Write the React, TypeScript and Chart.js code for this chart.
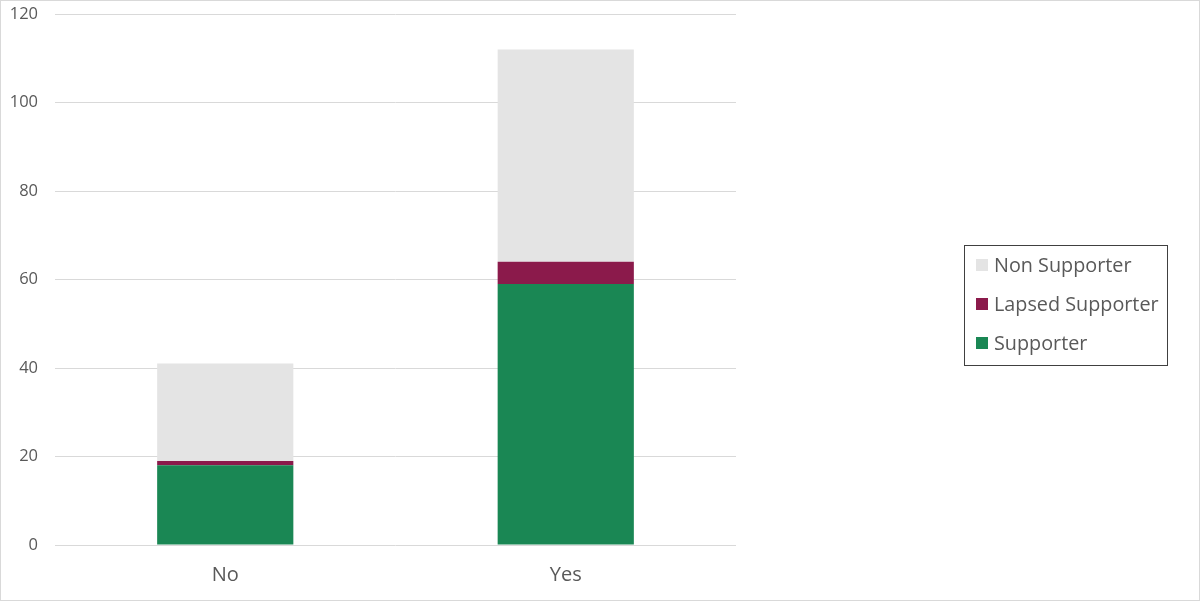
import React, { useEffect, useRef } from "react";
import { Chart, registerables } from "chart.js";

Chart.register(...registerables);

const categories = ["No", "Yes"];
const supporter = [18, 59];
const lapsedSupporter = [1, 5];
const nonSupporter = [22, 48];
const yTicks = [0, 20, 40, 60, 80, 100, 120];

const seriesNames = ["Supporter", "Lapsed Supporter", "Non Supporter"];
const seriesColors = ["#1A8754", "#8B1A4B", "#E4E4E4"];

const FONT = "'Open Sans', 'Noto Sans', sans-serif";

export default function App() {
  const canvasRef = useRef<HTMLCanvasElement | null>(null);

  useEffect(() => {
    document.body.style.margin = "0";
    const ctx = canvasRef.current;
    if (!ctx) return;
    const seriesData = [supporter, lapsedSupporter, nonSupporter];
    const chart = new Chart(ctx, {
      type: "bar",
      data: {
        labels: categories,
        datasets: seriesNames.map((name, i) => ({
          label: name,
          data: seriesData[i],
          backgroundColor: seriesColors[i],
          borderWidth: 0,
          barPercentage: 0.8,
          categoryPercentage: 0.5,
        })),
      },
      options: {
        animation: false,
        responsive: false,
        maintainAspectRatio: false,
        layout: { padding: { left: 0, right: 464, top: 14, bottom: 0 } },
        plugins: {
          legend: { display: false },
          tooltip: { enabled: false },
        },
        scales: {
          x: {
            stacked: true,
            grid: { display: false, drawTicks: false },
            border: { display: false },
            ticks: { color: "#595959", font: { family: FONT, size: 20 }, padding: 18 },
            afterFit: (s: any) => {
              s.height = 56;
            },
          },
          y: {
            stacked: true,
            min: 0,
            max: 120,
            afterBuildTicks: (s: any) => {
              s.ticks = yTicks.map((v) => ({ value: v }));
            },
            grid: { color: "#D9D9D9", lineWidth: 1, drawTicks: false },
            border: { display: false },
            ticks: { color: "#595959", font: { family: FONT, size: 16.5 }, padding: 17 },
            afterFit: (s: any) => {
              s.width = 55;
              s.paddingTop = 0;
              s.paddingBottom = 0;
            },
          },
        },
      },
    });
    return () => chart.destroy();
  }, []);

  const legendItems = [2, 1, 0];

  return (
    <div style={{ position: "relative", width: 1200, height: 601, background: "#fff", overflow: "hidden" }}>
      <canvas ref={canvasRef} width={1200} height={601} style={{ position: "absolute", left: 0, top: 0, width: 1200, height: 601 }} />
      <div
        style={{
          position: "absolute",
          left: 0,
          top: 0,
          width: 1200,
          height: 601,
          boxSizing: "border-box",
          border: "1px solid #D9D9D9",
          pointerEvents: "none",
        }}
      />
      <div
        style={{
          position: "absolute",
          left: 964,
          top: 245,
          width: 204,
          height: 121,
          boxSizing: "border-box",
          border: "1px solid #404040",
          fontFamily: FONT,
          fontSize: 19.8,
          color: "#595959",
        }}
      >
        {legendItems.map((idx, r) => (
          <div
            key={seriesNames[idx]}
            style={{
              position: "absolute",
              left: 11,
              top: 6 + r * 39,
              height: 26,
              display: "flex",
              alignItems: "center",
              whiteSpace: "nowrap",
            }}
          >
            <span style={{ display: "inline-block", width: 12, height: 12, background: seriesColors[idx], marginRight: 6 }} />
            <span style={{ lineHeight: "26px" }}>{seriesNames[idx]}</span>
          </div>
        ))}
      </div>
    </div>
  );
}
